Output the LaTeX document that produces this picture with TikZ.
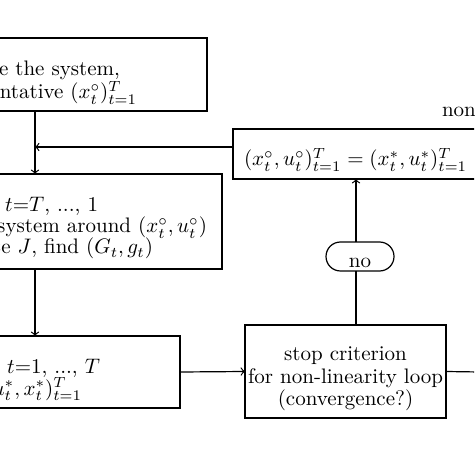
\RequirePackage{fix-cm}
\documentclass[tikz,border=0pt]{standalone}
\usepackage{fontspec}
\usetikzlibrary{shapes.misc}
\begin{document}
\begin{tikzpicture}[x=0.5pt,y=-0.5pt, font=\fontsize{10.5}{11.3}\selectfont,
  box/.style={draw, line width=0.6pt, rectangle, inner sep=0pt, outer sep=0pt},
  pill/.style={draw, line width=0.6pt, rounded rectangle, inner sep=0pt, outer sep=0pt},
  txt/.style={inner sep=0pt, outer sep=0pt},
  conn/.style={line width=0.6pt},
  arr/.style={conn, ->}]
\useasboundingbox (0,0) rectangle (474,474);
\clip (0,0) rectangle (474,474);
% boxes
\node[box, minimum width=106pt, minimum height=36.5pt] (b1) at (101,74.5) {};
\node[box, minimum width=113.5pt, minimum height=47.5pt] (b2) at (108.5,221.5) {};
\node[box, minimum width=92.5pt, minimum height=36pt] (b3) at (87.5,372) {};
\node[box, minimum width=100.5pt, minimum height=46.5pt] (b4) at (345.5,371.5) {};
\node[box, minimum width=122.5pt, minimum height=25pt] (b5) at (355.5,154) {};
\node[pill, minimum width=34pt, minimum height=14.5pt] (no) at (360,256.5) {};
% texts
\node[txt, anchor=base east] (t11) at (120,76) {e the system,};
\node[txt, anchor=base east] (t12) at (137,99) {entative $(x_t^\circ)_{t=1}^T$};
\node[txt, anchor=base east] (t21) at (98,212) {$t$=$T$, ..., 1};
\node[txt, anchor=base east] (t22) at (207,233) {system around $(x_t^\circ,u_t^\circ)$};
\node[txt, anchor=base east] (t23) at (153,254) {ze $J$, find $(G_t,g_t)$};
\node[txt, anchor=base east] (t31) at (100,373) {$t$=1, ..., $T$};
\node[txt, anchor=base east] (t32) at (82,395) {$u_t^*,x_t^*)_{t=1}^T$};
\node[txt, anchor=base] (t41) at (345.5,360) {stop criterion};
\node[txt, anchor=base] (t42) at (345.5,383) {for non-linearity loop};
\node[txt, anchor=base] (t43) at (345.5,405) {(convergence?)};
\node[txt, anchor=base] (t51) at (355.5,166) {$(x_t^\circ,u_t^\circ)_{t=1}^T=(x_t^*,u_t^*)_{t=1}^T$};
\node[txt, anchor=base] (tno) at (360,268) {no};
\node[txt, anchor=base west] (tnon) at (442,117) {non};
% connectors
\coordinate (m) at (35,147);
\coordinate (v) at (356,0);
\coordinate (out) at (480,372);
\draw[arr] (b1.south -| m) -- (b2.north -| m);
\draw[arr] (b5.west |- m) -- (m);
\draw[arr] (b2.south -| m) -- (b3.north -| m);
\draw[arr] (b3.east) -- (b4.west);
\draw[conn] (b4.east) -- (out);
\draw[conn] (b4.north -| v) -- (no.south -| v);
\draw[arr] (no.north -| v) -- (b5.south -| v);
\end{tikzpicture}
\end{document}
